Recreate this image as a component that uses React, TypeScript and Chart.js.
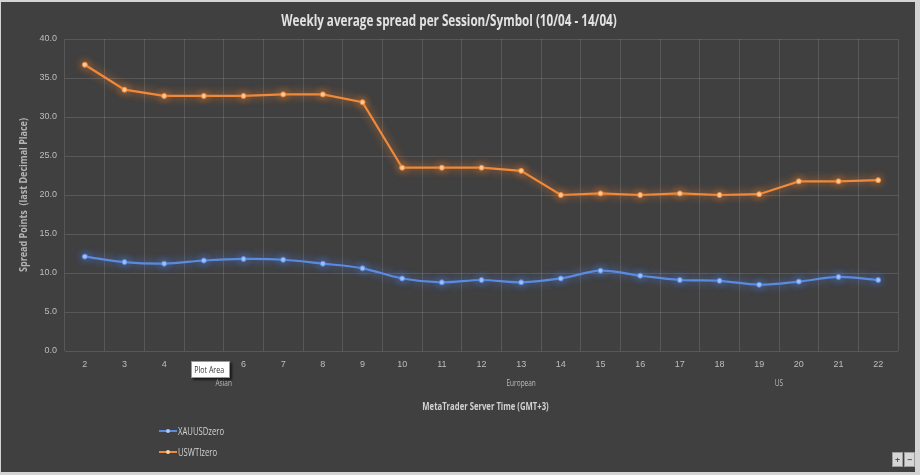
import React, { useEffect, useRef } from "react";
import { Chart, registerables } from "chart.js";

Chart.register(...registerables);

// Hour of the MetaTrader server day (GMT+3)
const hours: string[] = ["2", "3", "4", "5", "6", "7", "8", "9", "10", "11", "12", "13", "14", "15", "16", "17", "18", "19", "20", "21", "22"];

// Weekly average spread in points
const xauusdZero: number[] = [12.1, 11.4, 11.2, 11.6, 11.8, 11.7, 11.2, 10.6, 9.3, 8.8, 9.1, 8.8, 9.3, 10.3, 9.65, 9.1, 9.0, 8.5, 8.9, 9.5, 9.1];
const uswtiZero: number[] = [36.7, 33.5, 32.7, 32.7, 32.7, 32.9, 32.9, 31.9, 23.5, 23.5, 23.5, 23.1, 20.0, 20.2, 20.0, 20.2, 20.0, 20.1, 21.75, 21.75, 21.9];

// Trading sessions grouped over the hours (first and last hour of each group)
const sessionNames: string[] = ["Asian", "European", "US"];
const sessionFirst: string[] = ["2", "10", "17"];
const sessionLast: string[] = ["9", "16", "22"];

const yTicks: number[] = [0, 5, 10, 15, 20, 25, 30, 35, 40];

const FONT = "'Open Sans', 'Liberation Sans', sans-serif";
const TICK_FONT = "'Liberation Sans', 'Open Sans', sans-serif";
const BG = "#404040";
const TICK_COLOR = "#bdbdbd";
const TITLE_COLOR = "#e2e2e2";

// draws text squeezed horizontally, to get a narrow face out of a regular one
function narrowText(ctx: CanvasRenderingContext2D, text: string, x: number, y: number, sx: number, align: CanvasTextAlign) {
  ctx.save();
  ctx.translate(x, y);
  ctx.scale(sx, 1);
  ctx.textAlign = align;
  ctx.fillText(text, 0, 0);
  ctx.restore();
}

const glowPlugin = {
  id: "glow",
  beforeDatasetDraw(chart: any, args: any) {
    const ds = chart.data.datasets[args.index];
    const ctx = chart.ctx;
    ctx.save();
    ctx.shadowColor = ds.glowColor;
    ctx.shadowBlur = 8;
  },
  afterDatasetDraw(chart: any) {
    chart.ctx.restore();
  },
};

const decorPlugin = {
  id: "decor",
  afterDraw(chart: any) {
    const ctx: CanvasRenderingContext2D = chart.ctx;
    const area = chart.chartArea;
    const x = chart.scales.x;
    ctx.save();
    ctx.textBaseline = "middle";

    // main title
    ctx.fillStyle = TITLE_COLOR;
    ctx.font = `bold 16px ${FONT}`;
    narrowText(ctx, "Weekly average spread per Session/Symbol (10/04 - 14/04)", 448, 19, 0.73, "center");

    // y axis title
    ctx.save();
    ctx.translate(23, (area.top + area.bottom) / 2);
    ctx.rotate(-Math.PI / 2);
    ctx.font = `bold 10px ${FONT}`;
    ctx.fillStyle = "#b5b5b5";
    narrowText(ctx, "Spread Points  (last Decimal Place)", 0, 0, 0.9, "center");
    ctx.restore();

    // session group labels
    ctx.font = `9px ${FONT}`;
    ctx.fillStyle = TICK_COLOR;
    sessionNames.forEach((name, i) => {
      const a = x.getPixelForValue(hours.indexOf(sessionFirst[i]));
      const b = x.getPixelForValue(hours.indexOf(sessionLast[i]));
      narrowText(ctx, name, (a + b) / 2, 381, 0.72, "center");
    });

    // x axis title
    ctx.font = `bold 11px ${FONT}`;
    ctx.fillStyle = "#d2d2d2";
    narrowText(ctx, "MetaTrader Server Time (GMT+3)", (area.left + area.right) / 2 + 4, 405, 0.7, "center");

    // legend
    ctx.font = `11px ${FONT}`;
    chart.data.datasets.forEach((ds: any, i: number) => {
      const y = 429 + i * 21;
      ctx.strokeStyle = ds.borderColor;
      ctx.lineWidth = 2;
      ctx.beginPath();
      ctx.moveTo(158, y);
      ctx.lineTo(176, y);
      ctx.stroke();
      ctx.fillStyle = ds.pointBackgroundColor;
      ctx.beginPath();
      ctx.arc(167, y, 2, 0, Math.PI * 2);
      ctx.fill();
      ctx.fillStyle = "#d2d2d2";
      narrowText(ctx, ds.label, 177, y + 1, 0.7, "left");
    });
    ctx.restore();
  },
};

export default function App() {
  const ref = useRef<HTMLCanvasElement>(null);

  useEffect(() => {
    if (!ref.current) return;
    const chart = new Chart(ref.current, {
      type: "line",
      data: {
        labels: hours,
        datasets: [
          {
            label: "XAUUSDzero",
            data: xauusdZero,
            borderColor: "#5b8be0",
            backgroundColor: "#5b8be0",
            pointBackgroundColor: "#a9c6f7",
            pointBorderColor: "#5b8be0",
            pointBorderWidth: 1,
            pointRadius: 2.5,
            borderWidth: 2.2,
            tension: 0.35,
            glowColor: "rgba(80,130,230,0.9)",
          } as any,
          {
            label: "USWTIzero",
            data: uswtiZero,
            borderColor: "#f08a3a",
            backgroundColor: "#f08a3a",
            pointBackgroundColor: "#fdd0a4",
            pointBorderColor: "#f08a3a",
            pointBorderWidth: 1,
            pointRadius: 2.5,
            borderWidth: 2.2,
            tension: 0,
            glowColor: "rgba(240,130,50,0.9)",
          } as any,
        ],
      },
      options: {
        animation: false,
        responsive: false,
        maintainAspectRatio: false,
        layout: { padding: { top: 37, right: 17, left: 0, bottom: 0 } },
        plugins: {
          legend: { display: false },
          title: { display: false },
          tooltip: { enabled: false },
        },
        scales: {
          x: {
            offset: true,
            grid: { offset: true, color: "rgba(255,255,255,0.13)", drawTicks: false, lineWidth: 1 },
            border: { display: false },
            ticks: { color: TICK_COLOR, font: { family: TICK_FONT, size: 9 }, padding: 8, autoSkip: false, maxRotation: 0 },
            afterFit(scale: any) {
              scale.height = 121;
            },
          },
          y: {
            min: 0,
            max: 40,
            afterBuildTicks(scale: any) {
              scale.ticks = yTicks.map((v) => ({ value: v }));
            },
            grid: { color: "rgba(255,255,255,0.13)", drawTicks: false, lineWidth: 1 },
            border: { display: false },
            ticks: {
              color: TICK_COLOR,
              font: { family: TICK_FONT, size: 9 },
              padding: 8,
              callback: (v: any) => Number(v).toFixed(1),
            },
            afterFit(scale: any) {
              scale.width = 64;
            },
          },
        },
      },
      plugins: [glowPlugin, decorPlugin],
    });
    return () => chart.destroy();
  }, []);

  return (
    <div style={{ position: "fixed", left: 0, top: 0, width: 920, height: 475, background: "#d4d4d4", overflow: "hidden" }}>
      <div style={{ position: "absolute", left: 1, top: 2, width: 914, height: 470, background: BG }}>
        <canvas ref={ref} width={914} height={470} style={{ display: "block" }} />
        {/* hover hint box over the plot */}
        <div
          style={{
            position: "absolute",
            left: 190,
            top: 359,
            width: 37,
            height: 15,
            background: "#ffffff",
            border: "1px solid #9a9a9a",
            boxShadow: "2px 2px 2px rgba(0,0,0,0.6)",
            overflow: "hidden",
          }}
        >
          <span
            style={{
              display: "block",
              whiteSpace: "nowrap",
              font: `9px ${FONT}`,
              color: "#333",
              lineHeight: "15px",
              transform: "scaleX(0.78)",
              transformOrigin: "0 50%",
              paddingLeft: 3,
            }}
          >
            Plot Area
          </span>
        </div>
        {/* zoom buttons */}
        <div style={{ position: "absolute", left: 891, top: 450, display: "flex", gap: 1 }}>
          {["+", "−"].map((s) => (
            <div
              key={s}
              style={{
                width: 9,
                height: 13,
                background: "#d6d6d6",
                border: "1px solid #9c9c9c",
                color: "#555",
                font: `bold 9px ${FONT}`,
                lineHeight: "13px",
                textAlign: "center",
              }}
            >
              {s}
            </div>
          ))}
        </div>
      </div>
    </div>
  );
}
